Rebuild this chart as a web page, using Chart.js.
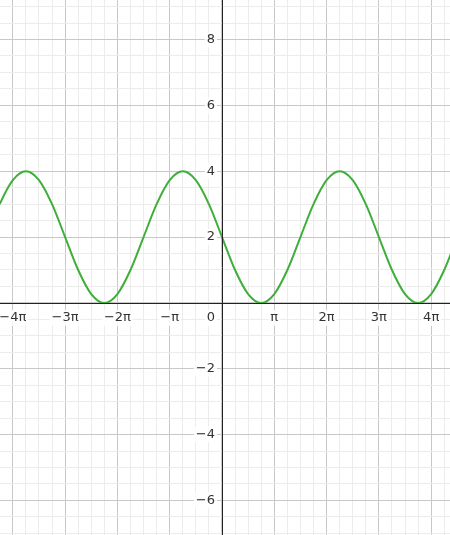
<!DOCTYPE html>
<html>
<head>
<meta charset="utf-8">
<script src="https://cdn.jsdelivr.net/npm/chart.js@4"></script>
<style>
  html, body { margin: 0; padding: 0; background: #fff; }
  canvas { display: block; }
</style>
</head>
<body>
<canvas id="graph" width="450" height="535"></canvas>
<script>
// x positions in quarters of pi
const quarterSteps = [-18, -17, -16, -15, -14, -13, -12, -11, -10, -9, -8, -7, -6, -5, -4, -3, -2, -1, 0,
                      1, 2, 3, 4, 5, 6, 7, 8, 9, 10, 11, 12, 13, 14, 15, 16, 17, 18];
const curveValues = [2, 3, 3.73, 4, 3.73, 3, 2, 1, 0.27, 0, 0.27, 1, 2, 3, 3.73, 4, 3.73, 3, 2,
                     1, 0.27, 0, 0.27, 1, 2, 3, 3.73, 4, 3.73, 3, 2, 1, 0.27, 0, 0.27, 1, 2];
const xTickMultiples = [-4, -3, -2, -1, 1, 2, 3, 4];
const xTickLabels = ['−4π', '−3π', '−2π', '−π', 'π', '2π', '3π', '4π'];
const yTickValues = [-6, -4, -2, 2, 4, 6, 8];
const yTickLabels = ['−6', '−4', '−2', '2', '4', '6', '8'];

const PI = Math.PI;
const points = quarterSteps.map((k, i) => ({ x: k * PI / 4, y: curveValues[i] }));

const majorColor = '#c8c8c8';
const minorColor = '#ececec';

const axesPlugin = {
    id: 'desmosAxes',
    afterDatasetsDraw(chart) {
        const { ctx, scales: { x, y }, chartArea } = chart;
        const x0 = x.getPixelForValue(0);
        const y0 = y.getPixelForValue(0);
        ctx.save();
        ctx.strokeStyle = '#222';
        ctx.lineWidth = 1;
        ctx.beginPath();
        ctx.moveTo(chartArea.left, Math.round(y0) + 0.5);
        ctx.lineTo(chartArea.right, Math.round(y0) + 0.5);
        ctx.moveTo(Math.round(x0) + 0.5, chartArea.top);
        ctx.lineTo(Math.round(x0) + 0.5, chartArea.bottom);
        ctx.stroke();

        ctx.font = '13px "DejaVu Sans", sans-serif';
        ctx.textBaseline = 'middle';
        const label = (text, px, py, align) => {
            ctx.textAlign = align;
            const w = ctx.measureText(text).width;
            const lx = align === 'center' ? px - w / 2 : align === 'right' ? px - w : px;
            ctx.fillStyle = 'rgba(255,255,255,0.85)';
            ctx.fillRect(lx - 2, py - 8, w + 4, 16);
            ctx.fillStyle = '#333';
            ctx.fillText(text, px, py);
        };
        xTickMultiples.forEach((m, i) => label(xTickLabels[i], x.getPixelForValue(m * PI), y0 + 15, 'center'));
        yTickValues.forEach((v, i) => label(yTickLabels[i], x0 - 7, y.getPixelForValue(v), 'right'));
        label('0', x0 - 7, y0 + 15, 'right');
        ctx.restore();
    }
};

new Chart(document.getElementById('graph'), {
    type: 'scatter',
    data: {
        datasets: [{
            data: points,
            showLine: true,
            borderColor: '#3fae3a',
            borderWidth: 2,
            pointRadius: 0,
            cubicInterpolationMode: 'monotone',
            fill: false
        }]
    },
    options: {
        responsive: false,
        animation: false,
        layout: { padding: 0 },
        plugins: { legend: { display: false }, tooltip: { enabled: false } },
        scales: {
            x: {
                type: 'linear',
                min: -4.245 * PI,
                max: 4.36 * PI,
                afterBuildTicks(scale) {
                    const ticks = [];
                    for (let k = -17; k <= 18; k++) ticks.push({ value: k * PI / 4 });
                    scale.ticks = ticks;
                },
                ticks: { display: false },
                border: { display: false },
                grid: {
                    drawTicks: false,
                    color: c => (Math.round(c.tick.value / PI * 4) % 4 === 0 ? majorColor : minorColor)
                }
            },
            y: {
                type: 'linear',
                min: -7.05,
                max: 9.2,
                afterBuildTicks(scale) {
                    const ticks = [];
                    for (let v = -7; v <= 9; v += 0.5) ticks.push({ value: v });
                    scale.ticks = ticks;
                },
                ticks: { display: false },
                border: { display: false },
                grid: {
                    drawTicks: false,
                    color: c => (Math.abs(c.tick.value % 2) < 1e-9 ? majorColor : minorColor)
                }
            }
        }
    },
    plugins: [axesPlugin]
});
</script>
</body>
</html>
